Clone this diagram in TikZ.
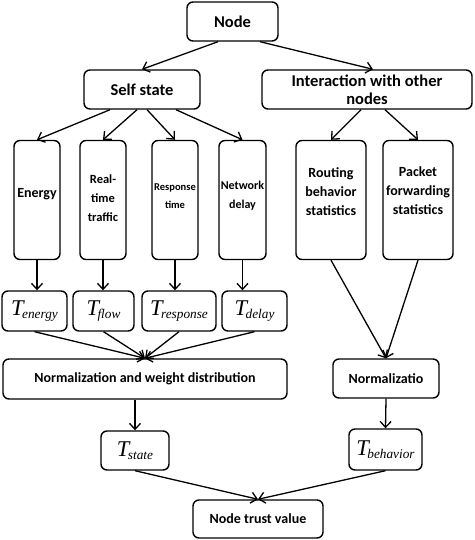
\documentclass[tikz,border=0pt]{standalone}
\usepackage{fontspec}
\setmainfont{Carlito}
\newfontfamily\tfont{Liberation Serif}
\usetikzlibrary{arrows.meta}
\newcommand{\tval}[1]{{\tfont\itshape\fontsize{22.5}{22.5}\selectfont T\kern-1.5pt\raisebox{-3.5pt}{\fontsize{13.3}{13.3}\selectfont #1}}}
\newcommand{\fs}[2]{\bfseries\fontsize{#1}{#2}\selectfont}
% lift the text of a tall box a little above its middle
\newcommand{\lift}[2]{\raisebox{#1}[\height][\depth]{\begin{tabular}{@{}c@{}}#2\end{tabular}}}
\tikzstyle{box}=[draw,line width=1.4pt,rounded corners=6pt,inner sep=0pt,align=center,font=\fs{14}{17}]
\tikzstyle{tall}=[box,minimum height=119pt]
\tikzstyle{tbox}=[box,minimum height=40pt,font=]
\tikzstyle{link}=[draw,line width=1.3pt,-{Straight Barb[length=6pt,width=11pt,line width=1.3pt]}]

\begin{document}
\begin{tikzpicture}[x=1pt,y=-1pt]
  \useasboundingbox (0,0) rectangle (474,540);

  % Top levels
  \node[box,minimum width=91pt,minimum height=39pt,font=\fs{16.5}{18}] (node) at (232.5,21.5) {Node};
  \node[box,minimum width=116pt,minimum height=39pt,font=\fs{16.5}{18}] (self) at (142,89.5) {Self state};
  \node[box,minimum width=210pt,minimum height=39pt,font=\fs{16.5}{18}] (inter) at (367,89.5) {Interaction with other\\nodes};

  % Factor boxes
  \node[tall,minimum width=46pt] (energy) at (37,200) {\lift{6pt}{Energy}};
  \node[tall,minimum width=46pt,font=\fs{12.5}{19}] (traffic) at (103,200) {\lift{1pt}{Real-\\time\\traffic}};
  \node[tall,minimum width=46pt,font=\fs{10.5}{18}] (response) at (175,200) {\lift{4pt}{Response\\time}};
  \node[tall,minimum width=47pt,font=\fs{12}{19}] (delay) at (242.5,200) {\lift{5pt}{Network\\delay}};
  \node[tall,minimum width=70pt,font=\fs{14}{19}] (routing) at (331,200) {\lift{7pt}{Routing\\behavior\\statistics}};
  \node[tall,minimum width=70pt,font=\fs{14}{19}] (packet) at (418,200) {\lift{8pt}{Packet\\forwarding\\statistics}};

  % Trust values
  \node[tbox,minimum width=65pt] (tenergy) at (34.5,311) {\tval{energy}};
  \node[tbox,minimum width=61pt] (tflow) at (103.5,311) {\tval{flow}};
  \node[tbox,minimum width=74pt] (tresponse) at (179,311) {\tval{response}};
  \node[tbox,minimum width=65pt] (tdelay) at (254.5,311) {\tval{delay}};

  \node[box,minimum width=284pt,minimum height=40pt] (norm) at (145,379) {Normalization and weight distribution};
  \node[box,minimum width=106pt,minimum height=39pt] (normb) at (386,378.5) {Normalizatio};

  \node[tbox,minimum width=68pt,minimum height=39pt] (tstate) at (135,450.5) {\tval{state}};
  \node[tbox,minimum width=73pt,minimum height=41pt] (tbehavior) at (385.5,449.5) {\tval{behavior}};

  \node[box,minimum width=130pt,minimum height=38pt] (trust) at (258,519) {Node trust value};

  % Connect the levels
  \path[link] ([xshift=-14.5pt]node.south) -- (self.north);
  \path[link] ([xshift=27.5pt]node.south) -- ([xshift=6pt]inter.north);

  \foreach \dx/\dest in {-32/energy, -5/traffic, 5/response, 34/delay}
    \path[link] ([xshift=\dx pt]self.south) -- (\dest.north);

  \foreach \dx/\dest in {-6/routing, 18/packet}
    \path[link] ([xshift=\dx pt]inter.south) -- (\dest.north);

  \foreach \source/\dest in {energy/tenergy, traffic/tflow, response/tresponse, delay/tdelay}
    \path[link] (\source.south) -- (\source.south |- \dest.north);

  \foreach \source in {tenergy, tflow, tresponse, tdelay}
    \path[link] (\source.south) -- (norm.north);

  \foreach \source in {routing, packet}
    \path[link] (\source.south) -- (normb.north);

  \path[link] ([xshift=-10pt]norm.south) -- (tstate.north);
  \path[link] (normb.south) -- (tbehavior.north);

  \foreach \source in {tstate, tbehavior}
    \path[link] (\source.south) -- (trust.north);
\end{tikzpicture}
\end{document}
